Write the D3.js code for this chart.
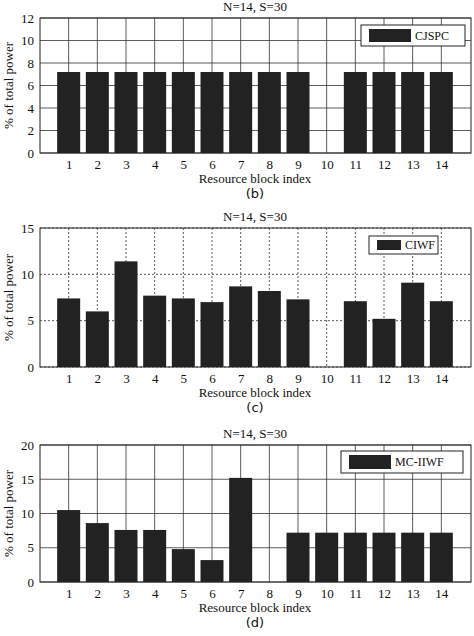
<!DOCTYPE html><html><head><script src="https://cdn.jsdelivr.net/npm/d3@7"></script>
<style>body{margin:0;background:#fff}text{font-family:"Liberation Serif",serif;fill:#111}</style></head><body>
<svg id="c" width="474" height="636"></svg>
<script>
const categories=d3.range(1,15);
const cjspc=[7.2,7.2,7.2,7.2,7.2,7.2,7.2,7.2,7.2,0,7.2,7.2,7.2,7.2];
const ciwf=[7.4,6.0,11.4,7.7,7.4,7.0,8.7,8.2,7.3,0,7.1,5.2,9.1,7.1];
const mciiwf=[10.5,8.6,7.6,7.6,4.8,3.2,15.2,0,7.2,7.2,7.2,7.2,7.2,7.2];
const yTicks1=[0,2,4,6,8,10,12],yTicks2=[0,5,10,15],yTicks3=[0,5,10,15,20];
const svg=d3.select("#c");
function panel(o){
 const x=d3.scaleLinear().domain([0,15]).range([40,470]);
 const y=d3.scaleLinear().domain([0,o.max]).range([o.bot,o.top]);
 const g=svg.append("g");
 g.append("text").attr("x",255).attr("y",o.top-7).attr("text-anchor","middle").attr("font-size",13).text("N=14, S=30");
 g.append("rect").attr("x",40).attr("y",o.top).attr("width",431).attr("height",o.bot-o.top).attr("fill","none").attr("stroke","#222");
 g.selectAll(".vg").data(categories).join("line").attr("x1",d=>x(d)).attr("x2",d=>x(d)).attr("y1",o.top).attr("y2",o.bot).attr("stroke","#333").attr("stroke-width",0.8).attr("stroke-dasharray",o.dash);
 g.selectAll(".hg").data(o.ticks).join("line").attr("x1",40).attr("x2",471).attr("y1",d=>y(d)).attr("y2",d=>y(d)).attr("stroke","#333").attr("stroke-width",0.8).attr("stroke-dasharray",o.dash);
 g.selectAll(".b").data(o.vals).join("rect").attr("x",(d,i)=>x(categories[i])-11.5).attr("width",23).attr("y",d=>y(d)).attr("height",d=>y(0)-y(d)).attr("fill","#222");
 const ya=g.append("g").attr("transform","translate(40,0)").call(d3.axisLeft(y).tickValues(o.ticks).tickSize(0).tickPadding(6));
 ya.select(".domain").remove();ya.selectAll("text").attr("font-size",13).attr("font-family","Liberation Serif");
 const xa=g.append("g").attr("transform",`translate(0,${o.bot})`).call(d3.axisBottom(x).tickValues(categories).tickSize(0).tickPadding(7));
 xa.select(".domain").remove();xa.selectAll("text").attr("font-size",13).attr("font-family","Liberation Serif");
 g.append("text").attr("x",255).attr("y",o.bot+30).attr("text-anchor","middle").attr("font-size",13).text("Resource block index");
 g.append("text").attr("x",255).attr("y",o.bot+45).attr("text-anchor","middle").attr("font-size",13).attr("style","font-family:'DejaVu Sans'").text(o.sub);
 g.append("text").attr("transform",`translate(13,${(o.top+o.bot)/2}) rotate(-90)`).attr("text-anchor","middle").attr("font-size",13).text("% of total power");
 const L=o.leg;
 g.append("rect").attr("x",L[0]).attr("y",L[1]).attr("width",L[2]).attr("height",L[3]).attr("fill","#fff").attr("stroke","#222");
 g.append("rect").attr("x",L[0]+8).attr("y",L[1]+4).attr("width",L[4]).attr("height",L[3]-8).attr("fill","#222");
 g.append("text").attr("x",L[0]+L[4]+12).attr("y",L[1]+L[3]/2+4).attr("font-size",12).text(o.name);
}
panel({top:18,bot:153,max:12,ticks:yTicks1,vals:cjspc,name:"CJSPC",sub:"(b)",dash:null,leg:[361,25,104,21,42]});
panel({top:228,bot:367,max:15,ticks:yTicks2,vals:ciwf,name:"CIWF",sub:"(c)",dash:"2,2",leg:[369,236,69,18,24]});
panel({top:445,bot:582,max:20,ticks:yTicks3,vals:mciiwf,name:"MC-IIWF",sub:"(d)",dash:null,leg:[341,451,122,22,42]});
</script></body></html>
